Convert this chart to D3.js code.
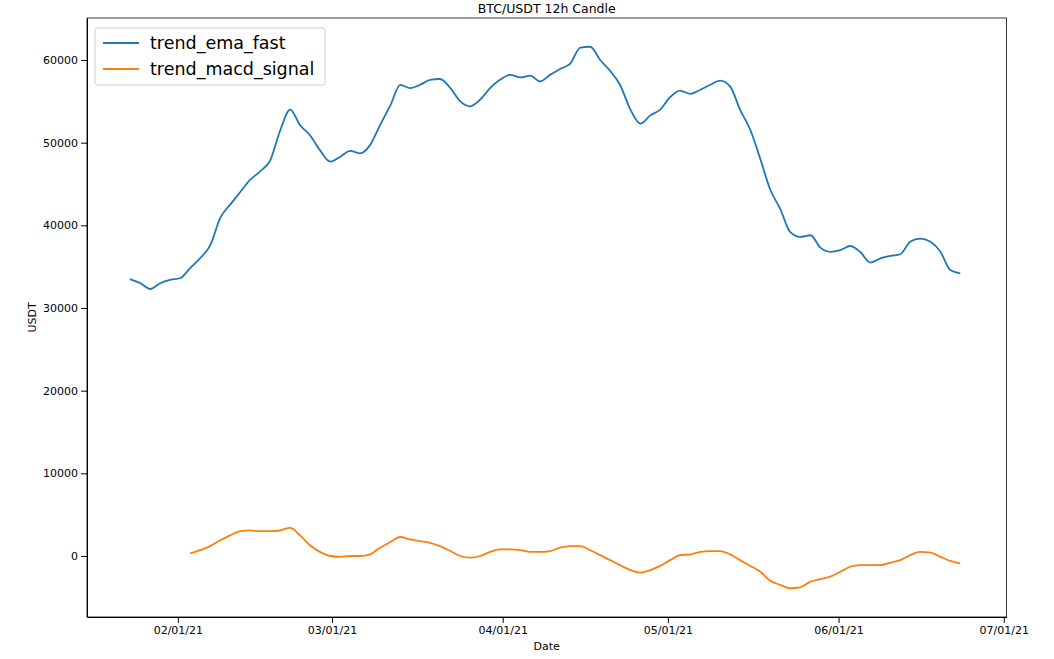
<!DOCTYPE html><html><head><meta charset="utf-8"><script src="https://cdn.jsdelivr.net/npm/d3@7"></script>
<style>body{margin:0;background:#fff}text{font-family:"DejaVu Sans",sans-serif}</style></head><body><svg id="c" width="1054" height="659"></svg>
<script>
// day-of-year 2021 (fractional, Jan 1 = 1) for each sample
const days=[23.3,25.2,27.0,28.8,30.6,32.4,34.2,36.0,37.9,39.7,41.5,43.3,45.1,46.9,48.8,50.6,52.4,54.2,56.0,57.8,59.7,61.5,63.3,65.1,66.9,68.7,70.6,72.4,74.2,76.0,77.8,79.6,81.5,83.3,85.1,86.9,88.7,90.5,92.4,94.2,96.0,97.8,99.6,101.4,103.3,105.1,106.9,108.7,110.5,112.3,114.2,116.0,117.8,119.6,121.4,123.2,125.1,126.9,128.7,130.5,132.3,134.1,136.0,137.8,139.6,141.4,143.2,145.0,146.9,148.7,150.5,152.3,154.1,155.9,157.8,159.6,161.4,163.2,165.0,166.8,168.7,170.5,172.3,174.1];
const emaFast=[33500,33000,32300,33000,33400,33600,34800,36000,37600,40900,42500,44000,45500,46500,47900,51500,54000,52100,50900,49100,47700,48300,49000,48700,49700,52100,54500,57000,56600,57000,57600,57700,56600,55000,54400,55200,56600,57600,58200,57900,58100,57400,58200,58900,59600,61500,61600,60000,58700,57000,54000,52300,53300,54000,55500,56300,55900,56400,57000,57500,56800,54000,51500,48000,44300,42000,39200,38600,38800,37300,36800,37000,37500,36800,35500,36000,36300,36500,38000,38400,38000,36800,34600,34200];
const macdStart=6;
const macdSignal=[300,700,1200,1900,2500,3000,3100,3000,3000,3100,3400,2500,1300,500,0,-100,0,0,200,1000,1700,2300,2000,1800,1600,1200,600,0,-200,0,500,800,800,700,500,500,600,1000,1200,1200,700,100,-500,-1100,-1700,-2000,-1700,-1200,-500,100,200,500,600,600,200,-500,-1200,-1900,-3000,-3500,-3900,-3800,-3100,-2800,-2500,-1900,-1300,-1100,-1100,-1100,-800,-500,100,500,400,-100,-600,-900];
const yTicks=[0,10000,20000,30000,40000,50000,60000];
const xTickDates=["2021-02-01","2021-03-01","2021-04-01","2021-05-01","2021-06-01","2021-07-01"];
const title="BTC/USDT 12h Candle";

const toDate=d=>new Date(Date.UTC(2021,0,1)+(d-1)*864e5);
const svg=d3.select("#c");
const L=87,R=1006.5,T=18,B=617;
const x=d3.scaleUtc().domain([toDate(15.5),toDate(182.5)]).range([L,R]);
const y=d3.scaleLinear().domain([-7380,65080]).range([B,T]);
const fmt=d3.utcFormat("%m/%d/%y");
svg.append("g").attr("transform",`translate(0,${B})`).call(d3.axisBottom(x).tickValues(xTickDates.map(s=>new Date(s+"T00:00:00Z"))).tickFormat(fmt).tickSizeOuter(0))
 .call(g=>g.selectAll("text").attr("font-size",11).attr("fill","#000"));
svg.append("g").attr("transform",`translate(${L},0)`).call(d3.axisLeft(y).tickValues(yTicks).tickFormat(d3.format("d")).tickSizeOuter(0))
 .call(g=>g.selectAll("text").attr("font-size",11).attr("fill","#000"));
svg.append("rect").attr("x",L).attr("y",T).attr("width",R-L).attr("height",B-T).attr("fill","none").attr("stroke","#000").attr("stroke-width",0.8);
const line=d3.line().x(d=>x(toDate(d[0]))).y(d=>y(d[1])).curve(d3.curveMonotoneX);
svg.append("path").datum(emaFast.map((v,i)=>[days[i],v])).attr("d",line).attr("fill","none").attr("stroke","#1f77b4").attr("stroke-width",1.8);
svg.append("path").datum(macdSignal.map((v,i)=>[days[i+macdStart],v])).attr("d",line).attr("fill","none").attr("stroke","#ff7f0e").attr("stroke-width",1.8);
svg.append("text").attr("x",(L+R)/2).attr("y",T-5).attr("text-anchor","middle").attr("font-size",12.5).text(title);
svg.append("text").attr("x",(L+R)/2).attr("y",650).attr("text-anchor","middle").attr("font-size",11).text("Date");
svg.append("text").attr("transform",`translate(36,${(T+B)/2}) rotate(-90)`).attr("text-anchor","middle").attr("font-size",11).text("USDT");
const lg=svg.append("g");
lg.append("rect").attr("x",95).attr("y",28).attr("width",230).attr("height",57).attr("rx",3).attr("fill","#fff").attr("fill-opacity",0.8).attr("stroke","#ccc");
[["trend_ema_fast","#1f77b4"],["trend_macd_signal","#ff7f0e"]].forEach((d,i)=>{
 const yy=43+i*26;
 lg.append("line").attr("x1",103).attr("x2",139).attr("y1",yy).attr("y2",yy).attr("stroke",d[1]).attr("stroke-width",2);
 lg.append("text").attr("x",150).attr("y",yy+6).attr("font-size",17.5).text(d[0]);
});
</script></body></html>
